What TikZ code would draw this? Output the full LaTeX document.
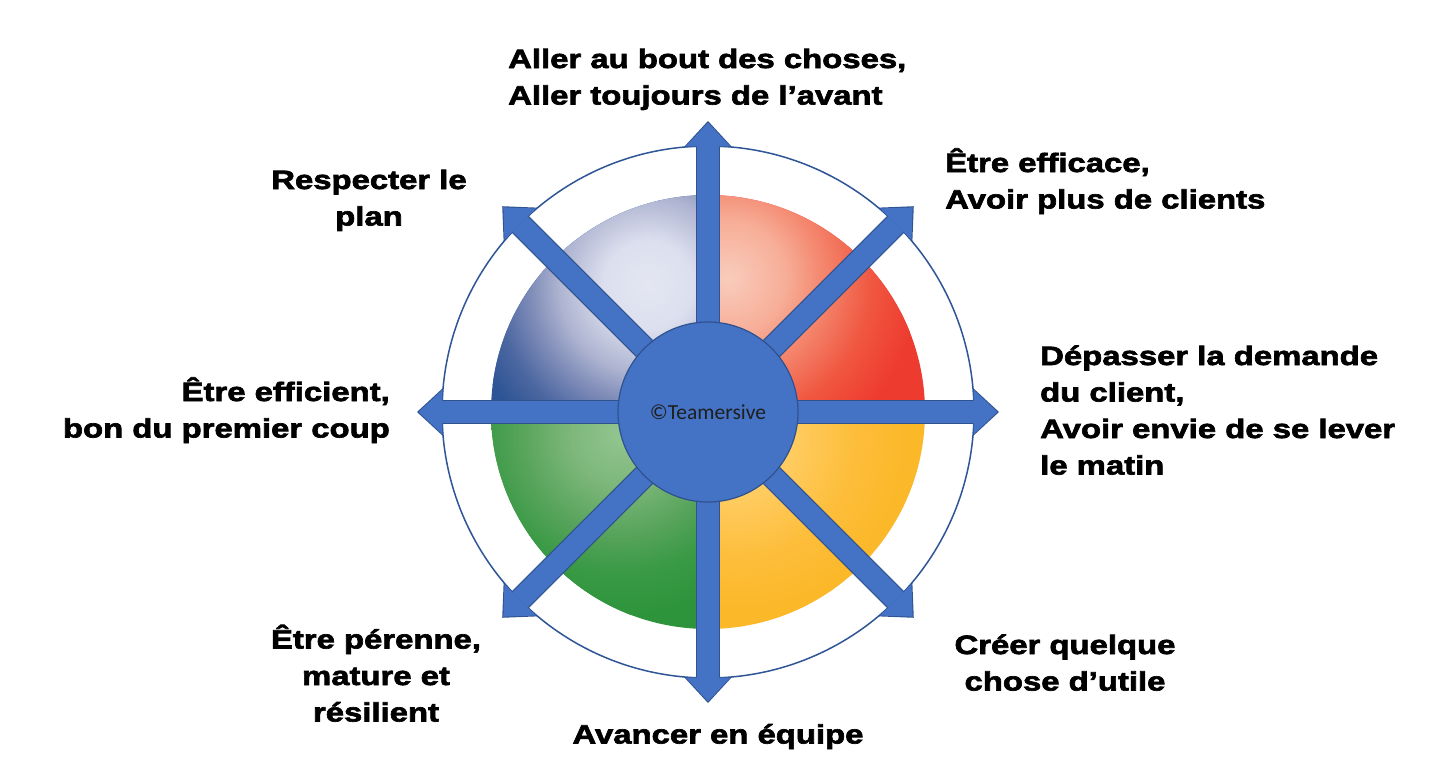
\documentclass[tikz,border=0pt]{standalone}
\usepackage{fontspec}
\usetikzlibrary{arrows.meta,calc}
\newfontfamily\lblfont{Liberation Sans}[UprightFont=* Bold,FakeStretch=1.24,FakeBold=2.5]
\newfontfamily\hubfont{Carlito}

\definecolor{arrowblue}{HTML}{4472C4}
\definecolor{arrowdark}{HTML}{2F528F}
\definecolor{ringblue}{HTML}{2F5597}
% blue quadrant
\definecolor{bA}{HTML}{E4E6F2}\definecolor{bB}{HTML}{DCDFEE}\definecolor{bC}{HTML}{AEB4D1}
\definecolor{bD}{HTML}{7F8CB8}\definecolor{bE}{HTML}{4C67A1}\definecolor{bF}{HTML}{2D5494}
% red quadrant
\definecolor{rA}{HTML}{F9CCBC}\definecolor{rB}{HTML}{F7AE98}\definecolor{rC}{HTML}{F4866D}
\definecolor{rD}{HTML}{F05640}\definecolor{rE}{HTML}{EE3B30}
% yellow quadrant
\definecolor{yA}{HTML}{FFD67F}\definecolor{yB}{HTML}{FFCB5E}\definecolor{yC}{HTML}{FDBE3C}
\definecolor{yD}{HTML}{FBB829}
% green quadrant
\definecolor{gA}{HTML}{93C590}\definecolor{gB}{HTML}{7DB77A}\definecolor{gC}{HTML}{56A35B}
\definecolor{gD}{HTML}{3A9A45}\definecolor{gE}{HTML}{2E943C}

\pgfdeclareradialshading{blueq}{\pgfpointorigin}{color(0bp)=(bA); color(6bp)=(bB); color(12bp)=(bC); color(16bp)=(bD); color(20.5bp)=(bE); color(25bp)=(bF); color(50bp)=(bF)}
\pgfdeclareradialshading{redq}{\pgfpointorigin}{color(0bp)=(rA); color(7.5bp)=(rB); color(12.5bp)=(rC); color(19bp)=(rD); color(25bp)=(rE); color(50bp)=(rE)}
\pgfdeclareradialshading{yellowq}{\pgfpointorigin}{color(0bp)=(yA); color(9bp)=(yB); color(17bp)=(yC); color(25bp)=(yD); color(50bp)=(yD)}
\pgfdeclareradialshading{greenq}{\pgfpointorigin}{color(0bp)=(gA); color(7bp)=(gB); color(14bp)=(gC); color(19bp)=(gD); color(25bp)=(gE); color(50bp)=(gE)}

\tikzset{
  lbl/.style={font=\lblfont\fontsize{26.5}{36.5}\selectfont, inner sep=0pt, text=black},
  arrowborder/.style={draw=arrowdark, line width=24pt, -{Triangle[width=48pt,length=26pt,line width=0pt]}},
  arrowfill/.style={draw=arrowblue, line width=21.5pt, shorten >=1.6pt, -{Triangle[width=44.5pt,length=23.8pt,line width=0pt]}},
  hub/.style={circle, minimum size=180pt, inner sep=0pt, fill=arrowblue, draw=arrowdark, line width=1.2pt, font=\hubfont\fontsize{21.5}{24}\selectfont, text=black!88}
}

\begin{document}
\begin{tikzpicture}[x=1pt,y=1pt]
\useasboundingbox[fill=white] (0,0) rectangle (1436,-772);

\coordinate (c) at (708,-412);

% outer white ring
\draw[ringblue, line width=1.5pt, fill=white] (c) circle (266);

% quadrants
\fill[bF] (c) -- ++(0,217) arc[start angle=90,end angle=180,radius=217] -- cycle;
\begin{scope}
  \clip (c) -- ++(0,217) arc[start angle=90,end angle=180,radius=217] -- cycle;
  \shade[shading=blueq] (648,-285) circle (185);
\end{scope}
\fill[rE] (c) -- ++(217,0) arc[start angle=0,end angle=90,radius=217] -- cycle;
\begin{scope}
  \clip (c) -- ++(217,0) arc[start angle=0,end angle=90,radius=217] -- cycle;
  \shade[shading=redq] (728,-278) circle (190);
\end{scope}
\fill[yD] (c) -- ++(0,-217) arc[start angle=270,end angle=360,radius=217] -- cycle;
\begin{scope}
  \clip (c) -- ++(0,-217) arc[start angle=270,end angle=360,radius=217] -- cycle;
  \shade[shading=yellowq] (735,-440) circle (170);
\end{scope}
\fill[gE] (c) -- ++(-217,0) arc[start angle=180,end angle=270,radius=217] -- cycle;
\begin{scope}
  \clip (c) -- ++(-217,0) arc[start angle=180,end angle=270,radius=217] -- cycle;
  \shade[shading=greenq] (620,-435) circle (180);
\end{scope}

% arrow tips
\coordinate (tN)  at ($(c)+(90:291)$);
\coordinate (tNE) at ($(c)+(45:291)$);
\coordinate (tE)  at ($(c)+(0:291)$);
\coordinate (tSE) at ($(c)+(-45:291)$);
\coordinate (tS)  at ($(c)+(-90:291)$);
\coordinate (tSW) at ($(c)+(-135:291)$);
\coordinate (tW)  at ($(c)+(180:291)$);
\coordinate (tNW) at ($(c)+(135:291)$);

\foreach \t in {tN,tNE,tE,tSE,tS,tSW,tW,tNW}{\draw[arrowborder] (c) -- (\t);}
\foreach \t in {tN,tNE,tE,tSE,tS,tSW,tW,tNW}{\draw[arrowfill] (c) -- (\t);}

\node[hub] (hub) at (c) {\raisebox{-4pt}{\textcopyright Teamersive}};

% labels (base anchor = baseline of last line)
\node[lbl, anchor=base west, align=left] (lN) at (508,-104.5) {Aller au bout des choses,\\Aller toujours de l’avant};
\node[lbl, anchor=base west, align=left] (lNE) at (945,-208.5) {Être efficace,\\Avoir plus de clients};
\node[lbl, anchor=base west, align=left] (lE) at (1040,-474.5) {Dépasser la demande\\du client,\\Avoir envie de se lever\\le matin};
\node[lbl, anchor=base, align=center] (lSE) at (1065,-690.5) {Créer quelque\\chose d’utile};
\node[lbl, anchor=base, align=center] (lS) at (718,-743.5) {Avancer en équipe};
\node[lbl, anchor=base, align=center] (lSW) at (376,-721.5) {Être pérenne,\\mature et\\résilient};
\node[lbl, anchor=base east, align=right] (lW) at (390,-437.5) {Être efficient,\\bon du premier coup};
\node[lbl, anchor=base, align=center] (lNW) at (369,-225.5) {Respecter le\\plan};
\end{tikzpicture}
\end{document}
